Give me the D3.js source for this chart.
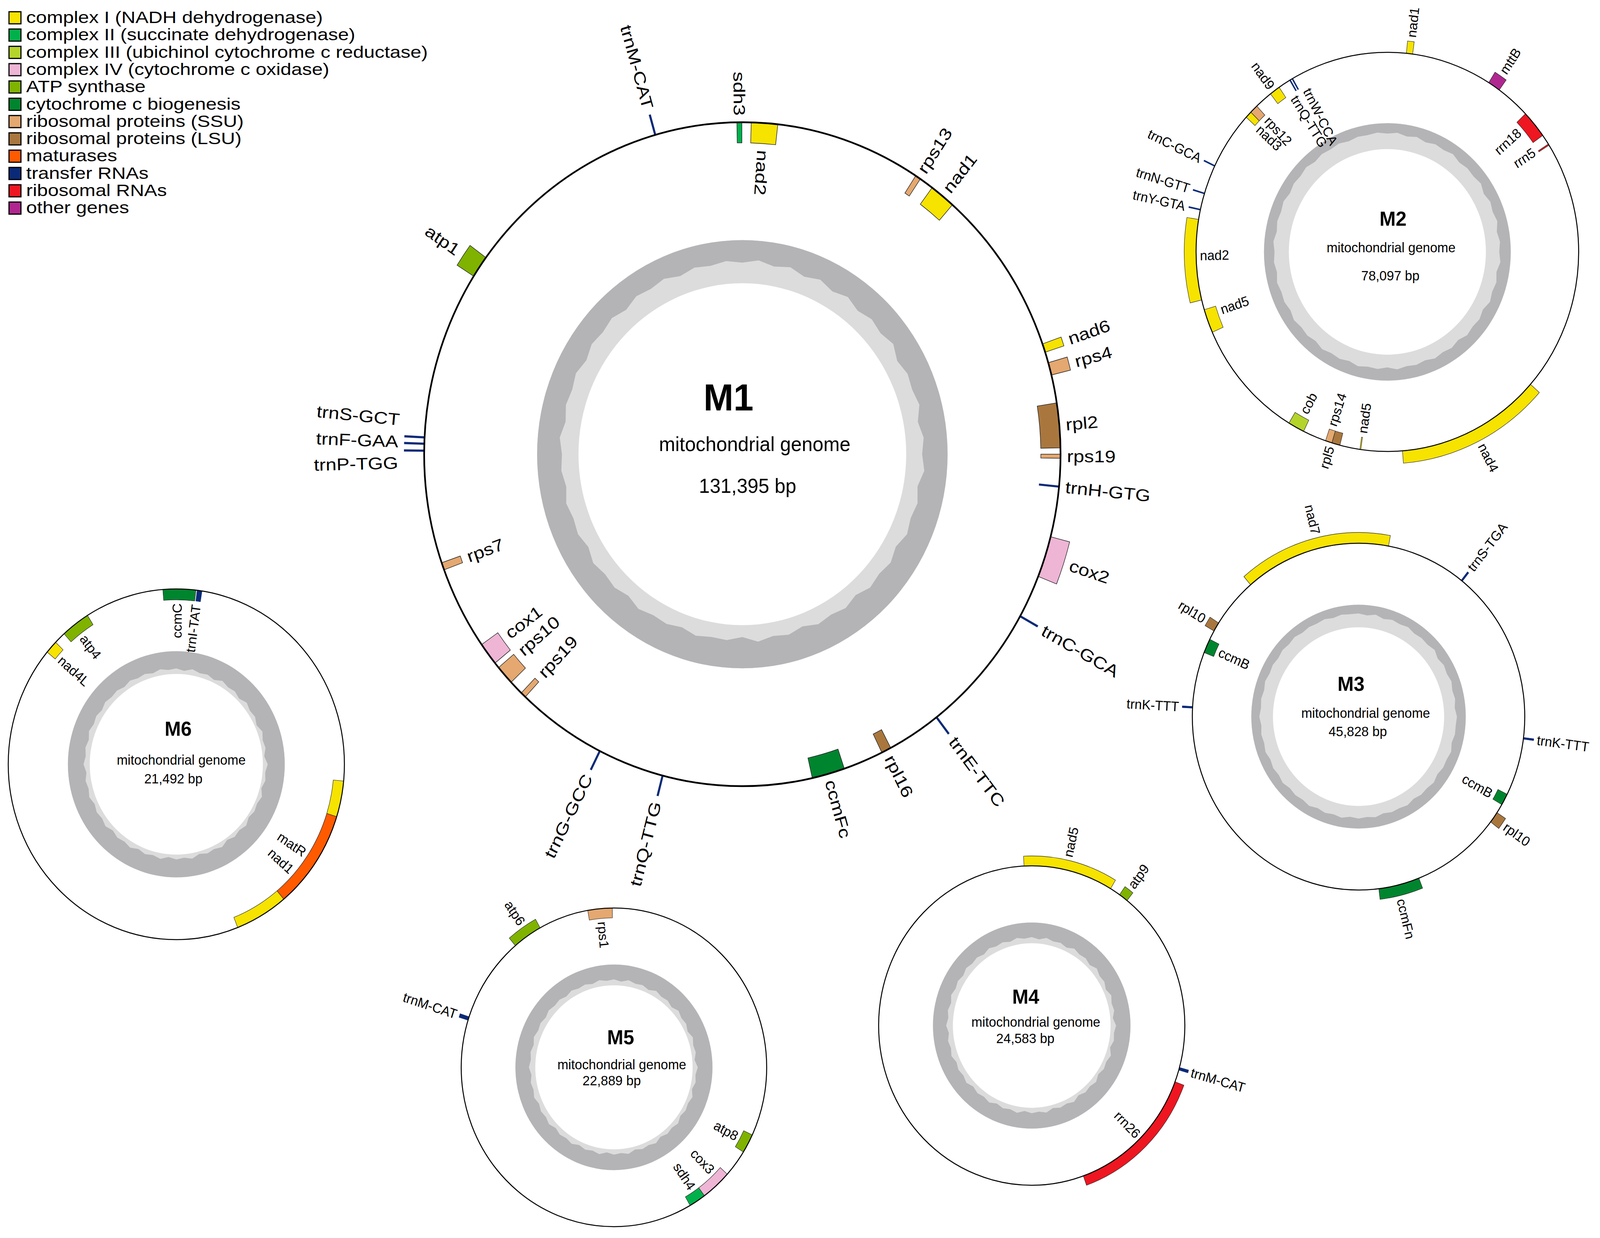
<!DOCTYPE html>
<html>
<head>
<meta charset="utf-8">
<script src="https://cdn.jsdelivr.net/npm/d3@7"></script>
<style>
  html, body { margin: 0; padding: 0; width: 100%; height: 100%; overflow: hidden; background: #fff; }
  svg { display: block; width: 100vw; height: 100vh; font-family: "Liberation Sans", Arial, sans-serif; }
</style>
</head>
<body>
<svg id="chart" viewBox="0 0 4274 3170" preserveAspectRatio="none"></svg>
<script>
/*

 gene maps of the six mitochondrial genomes

*/

// legend
var catKeys = ["c1", "c2", "c3", "c4", "atp", "ccm", "ssu", "lsu", "mat", "trna", "rrna", "other"];
var catNames = [
  "complex I (NADH dehydrogenase)",
  "complex II (succinate dehydrogenase)",
  "complex III (ubichinol cytochrome c reductase)",
  "complex IV (cytochrome c oxidase)",
  "ATP synthase",
  "cytochrome c biogenesis",
  "ribosomal proteins (SSU)",
  "ribosomal proteins (LSU)",
  "maturases",
  "transfer RNAs",
  "ribosomal RNAs",
  "other genes"
];
var catColors = ["#f6e300", "#00b14b", "#b5d42b", "#eeb5d5", "#7fb300", "#00852f",
  "#e4a870", "#a9773e", "#ff5a00", "#0a2a78", "#ee1620", "#b0278f"];

var genomeNames = ["M1", "M2", "M3", "M4", "M5", "M6"];
var genomeLengths = [131395, 78097, 45828, 24583, 22889, 21492];

// [name, category, start bp, end bp, box side, label side, label at bp, flip]
var genesM1 = [
  ["trnM-CAT", "trna", 125560, 125635, "out", "out"],
  ["sdh3", "c2", 131035, 131364, "in", "out"],
  ["nad2", "c1", 584, 2336, "in", "in", null, true],
  ["rps13", "ssu", 12045, 12410, "in", "out"],
  ["nad1", "c1", 13359, 15075, "in", "out"],
  ["nad6", "c1", 25769, 26317, "out", "out"],
  ["rps4", "ssu", 27010, 27813, "out", "out"],
  ["rpl2", "lsu", 29602, 32449, "in", "out"],
  ["rps19", "ssu", 32850, 33106, "in", "out"],
  ["trnH-GTG", "trna", 34858, 34930, "in", "out"],
  ["cox2", "c4", 38106, 40734, "out", "out"],
  ["trnC-GCA", "trna", 43472, 43545, "out", "out"],
  ["trnE-TTC", "trna", 51940, 52012, "out", "out"],
  ["rpl16", "lsu", 55553, 56210, "in", "out"],
  ["ccmFc", "ccm", 58875, 61065, "in", "out"],
  ["trnQ-TTG", "trna", 70956, 71030, "out", "out"],
  ["trnG-GCC", "trna", 75373, 75446, "out", "out"],
  ["rps19", "ssu", 81395, 81760, "in", "in"],
  ["rps10", "ssu", 82709, 83950, "in", "in", 83731],
  ["cox1", "c4", 84315, 85775, "in", "in", 85264],
  ["rps7", "ssu", 91104, 91579, "in", "in"],
  ["trnP-TGG", "trna", 98733, 98806, "out", "out", 98039],
  ["trnF-GAA", "trna", 99171, 99244, "out", "out", 99280],
  ["trnS-GCT", "trna", 99572, 99645, "out", "out", 100558],
  ["atp1", "atp", 110376, 111800, "out", "out"]
];

var genesM2 = [
  ["nad1", "c1", 1236, 1648, "out", "out"],
  ["mttB", "other", 6941, 7765, "out", "out"],
  ["rrn18", "rrna", 10021, 11778, "in", "in", 10563],
  ["rrn5", "rrna", 12428, 12515, "in", "in", 12298],
  ["nad4", "c1", 28544, 38066, "out", "out", 33164],
  ["nad5", "c1", 40777, 40842, "in", "in"],
  ["rpl5", "lsu", 42165, 42708, "in", "out", 42751],
  ["rps14", "ssu", 42708, 43142, "in", "in", 43033],
  ["cob", "c3", 44681, 45766, "in", "in"],
  ["nad5", "c1", 53422, 54918, "in", "in", 54573],
  ["nad2", "c1", 55549, 60602, "out", "in", 58346],
  ["trnY-GTA", "trna", 61187, 61260, "out", "out"],
  ["trnN-GTT", "trna", 62229, 62302, "out", "out"],
  ["trnC-GCA", "trna", 64072, 64145, "out", "out"],
  ["nad3", "c1", 67781, 68215, "in", "in", 67846],
  ["rps12", "ssu", 68215, 68757, "in", "in", 68714],
  ["nad9", "c1", 69929, 70623, "in", "out", 70212],
  ["trnQ-TTG", "trna", 71425, 71500, "in", "in", 71143],
  ["trnW-CCA", "trna", 71599, 71672, "in", "in", 72184]
];

var genesM3 = [
  ["nad7", "c1", 40672, 1324, "out", "out", 44084],
  ["trnS-TGA", "trna", 4850, 4925, "out", "out"],
  ["trnK-TTT", "trna", 12335, 12410, "out", "out"],
  ["ccmB", "ccm", 14843, 15340, "in", "in", 15174],
  ["rpl10", "lsu", 15734, 16218, "out", "out"],
  ["ccmFn", "ccm", 20203, 22023, "out", "out", 21170],
  ["trnK-TTT", "trna", 34727, 34800, "out", "out"],
  ["ccmB", "ccm", 37133, 37744, "in", "in"],
  ["rpl10", "lsu", 38139, 38534, "out", "out"]
];

var genesM4 = [
  ["nad5", "c1", 24386, 2117, "out", "out", 860],
  ["atp9", "atp", 2390, 2629, "out", "out"],
  ["trnM-CAT", "trna", 7184, 7252, "out", "out"],
  ["rrn26", "rrna", 7553, 10947, "out", "in", 9205]
];

var genesM5 = [
  ["atp8", "atp", 7318, 7763, "in", "in", 7528],
  ["cox3", "c4", 8399, 9137, "in", "in", 8615],
  ["sdh4", "c2", 9137, 9543, "in", "in", 9283],
  ["trnM-CAT", "trna", 18260, 18343, "out", "out"],
  ["atp6", "atp", 20333, 21051, "out", "out", 20740],
  ["rps1", "ssu", 22260, 22851, "in", "in", 22584]
];

var genesM6 = [
  ["ccmC", "ccm", 21217, 400, "in", "in", 18],
  ["trnI-TAT", "trna", 424, 525, "in", "in", 442],
  ["nad1", "c1", 5701, 6412, "in", "in", 7851],
  ["matR", "mat", 6412, 8376, "in", "in", 7379],
  ["nad1", "c1", 8376, 9468, "in", null],
  ["nad4L", "c1", 18495, 18752, "in", "in", 18573],
  ["atp4", "atp", 18990, 19588, "in", "in", 19265]
];

// GC content windows (%), clockwise from the top
var gcM1 = [42.8,41.9,43.1,42.2,43.6,42.5,43.9,42.7,44.1,43.0,43.8,42.6,44.3,43.2,43.7,42.9,44.5,43.3,
  44.0,43.1,44.6,43.5,44.2,43.4,44.8,43.6,44.4,43.7,45.1,43.9,44.7,44.0,45.3,44.2,44.9,43.8,
  45.4,44.3,44.6,43.9,45.0,44.1,44.5,43.6,44.8,43.7,44.2,43.3,44.6,43.5,44.0,43.2,44.3,43.4,
  43.8,42.9,44.1,43.1,43.6,42.8,43.9,42.7,43.3,42.5,43.7,42.4,43.0,42.2,43.4,42.3,42.9,42.1];
var gcM2 = [41.2,40.6,41.8,40.9,42.1,41.0,41.6,40.7,42.0,41.3,41.7,40.8,42.3,41.1,41.9,41.0,42.4,41.4,
  42.0,41.2,42.6,41.5,42.2,41.3,42.8,41.7,42.3,41.5,42.9,41.8,42.5,41.6,42.7,41.9,42.4,41.4,
  42.6,41.6,42.1,41.2,42.3,41.4,41.9,41.0,42.2,41.3,41.8,40.9,42.0,41.1,41.6,40.8,41.9,41.0,
  41.5,40.7,41.8,40.9,41.4,40.6,41.7,40.8,41.3,40.5,41.6,40.7,41.2,40.6,41.5,40.8,41.1,40.5];
var gcM3 = [41.0,41.9,40.8,42.2,41.1,41.7,40.9,42.0,41.4,41.8,40.7,42.3,41.2,41.9,41.0,42.1,41.5,42.4,
  41.3,41.8,41.6,42.5,41.2,42.0,41.7,42.6,41.4,42.2,41.8,42.7,41.5,42.3,41.9,42.8,41.6,42.4,
  41.7,42.5,41.3,42.2,41.5,42.3,41.1,42.0,41.4,42.1,41.0,41.9,41.2,42.0,40.9,41.7,41.1,41.8,
  40.8,41.6,41.0,41.7,40.7,41.5,40.9,41.6,40.8,41.4,40.6,41.5,40.9,41.3,40.7,41.6,40.8,41.2];
var gcM4 = [45.1,46.3,44.8,46.0,45.4,46.7,44.9,46.2,45.6,46.9,45.0,46.4,45.7,47.1,45.2,46.5,45.8,47.3,
  45.4,46.6,46.0,47.5,45.5,46.8,46.1,47.4,45.6,46.7,45.9,47.2,45.3,46.6,45.8,47.0,45.2,46.4,
  45.6,46.8,45.0,46.3,45.4,46.6,44.9,46.1,45.3,46.5,44.8,46.0,45.2,46.3,44.7,45.9,45.0,46.2,
  44.6,45.8,44.9,46.0,44.5,45.7,44.8,45.9,44.6,45.6,44.9,46.1,44.7,45.8,45.0,46.2,44.8,45.9];
var gcM5 = [45.3,46.5,45.0,46.2,45.6,46.9,45.1,46.4,45.8,47.1,45.3,46.6,45.9,47.3,45.5,46.8,46.1,47.5,
  45.6,46.9,46.2,47.6,45.8,47.0,46.3,47.4,45.7,46.9,46.0,47.3,45.5,46.7,45.9,47.1,45.4,46.5,
  45.7,46.9,45.2,46.4,45.5,46.7,45.1,46.2,45.4,46.6,45.0,46.1,45.3,46.4,44.9,46.0,45.2,46.3,
  44.8,45.9,45.1,46.1,44.7,45.8,45.0,46.0,44.8,45.7,45.1,46.2,44.9,45.9,45.2,46.3,45.0,46.0];
var gcM6 = [45.8,47.0,45.5,46.7,46.1,47.4,45.6,46.9,46.3,47.6,45.8,47.1,46.4,47.8,46.0,47.3,46.6,48.0,
  46.1,47.4,46.7,48.1,46.3,47.5,46.8,47.9,46.2,47.4,46.5,47.8,46.0,47.2,46.4,47.6,45.9,47.0,
  46.2,47.4,45.7,46.9,46.0,47.2,45.6,46.7,45.9,47.1,45.5,46.6,45.8,46.9,45.4,46.5,45.7,46.8,
  45.3,46.4,45.6,46.6,45.2,46.3,45.5,46.5,45.3,46.2,45.6,46.7,45.4,46.4,45.7,46.8,45.5,46.5];

var allGenes = [genesM1, genesM2, genesM3, genesM4, genesM5, genesM6];
var allGc = [gcM1, gcM2, gcM3, gcM4, gcM5, gcM6];

// where each map sits on the page
var layout = {
  M1: {cx: 1983, cy: 1163, r: 850, font: 43, sx: 1.21, stroke: 4.5, tw: 2.5, bw: 1.4,
       title: 96, sub: 52, txt: [[-37, -112], [33, -8], [14, 99]]},
  M2: {cx: 3706, cy: 645, r: 511, font: 35, sx: 1, stroke: 2.6, tw: 1, bw: 1.1,
       title: 52, sub: 35, txt: [[15, -67], [10, 1], [8, 73]]},
  M3: {cx: 3629, cy: 1835, r: 444, font: 35, sx: 1, stroke: 2.6, tw: 1, bw: 1.1,
       title: 52, sub: 35, txt: [[-20, -66], [19, 3], [-2, 50]]},
  M4: {cx: 2756, cy: 2626, r: 409, font: 35, sx: 1, stroke: 2.6, tw: 1, bw: 1.1,
       title: 52, sub: 35, txt: [[-16, -56], [11, 3], [-17, 45]]},
  M5: {cx: 1640, cy: 2733, r: 408, font: 35, sx: 1, stroke: 2.6, tw: 1, bw: 1.1,
       title: 52, sub: 35, txt: [[18, -59], [21, 5], [-6, 46]]},
  M6: {cx: 471, cy: 1957, r: 449, font: 35, sx: 1, stroke: 2.6, tw: 1, bw: 1.1,
       title: 52, sub: 35, txt: [[5, -73], [13, 1], [-8, 49]]}
};

var svg = d3.select("#chart");
svg.append("rect").attr("width", 4274).attr("height", 3170).attr("fill", "#fff");

var color = d3.scaleOrdinal().domain(catKeys).range(catColors);
var fmt = d3.format(",");

function drawGenome(name, len, genes, gc) {
  var L = layout[name];
  var R = L.r, T = R * 0.062, gap = R * 0.02;
  var rOut = R * 0.645, rIn = R * 0.515;
  var g = svg.append("g").attr("transform", "translate(" + L.cx + "," + L.cy + ")");

  var pos = d3.scaleLinear().domain([0, len]).range([0, 2 * Math.PI]);

  // GC ring
  g.append("path")
    .attr("d", d3.arc()({innerRadius: rIn, outerRadius: rOut, startAngle: 0, endAngle: 2 * Math.PI}))
    .attr("fill", "#dcdcdc");

  var step = d3.scaleLinear().domain([0, gc.length]).range([0, 2 * Math.PI]);
  var depth = d3.scaleLinear().domain([36, 49]).range([rOut, rIn]).clamp(true);
  var jag = d3.lineRadial()
    .angle(function(d, i) { return step(i); })
    .radius(function(d) { return depth(d); })
    .curve(d3.curveLinearClosed);
  var disc = d3.arc()({innerRadius: 0, outerRadius: rOut, startAngle: 0, endAngle: 2 * Math.PI});
  g.append("path")
    .attr("d", disc + jag(gc))
    .attr("fill-rule", "evenodd")
    .attr("fill", "#b4b3b6");

  // gene boxes
  var arc = d3.arc();
  genes.forEach(function(f) {
    var s = f[2], e = f[3] < f[2] ? f[3] + len : f[3];
    var r0 = f[4] === "out" ? R : R - T;
    var r1 = f[4] === "out" ? R + T : R;
    var tr = f[1] === "trna";
    g.append("path")
      .attr("d", arc({innerRadius: r0, outerRadius: r1, startAngle: pos(s), endAngle: pos(e)}))
      .attr("fill", color(f[1]))
      .attr("stroke", tr ? color(f[1]) : "#222")
      .attr("stroke-width", tr ? L.tw : L.bw);
  });

  // backbone
  g.append("circle")
    .attr("r", R)
    .attr("fill", "none")
    .attr("stroke", "#000")
    .attr("stroke-width", L.stroke);

  // labels
  genes.forEach(function(f) {
    if (!f[5]) return;
    var s = f[2], e = f[3] < f[2] ? f[3] + len : f[3];
    var at = f[6] != null ? f[6] : (s + e) / 2;
    var a = pos(at % len);
    var deg = (a * 180 / Math.PI) % 360;
    var outward = deg < 180;
    if (f[7]) outward = !outward;
    var labOut = f[5] === "out";
    var r = labOut ? R + (f[4] === "out" ? T : 0) + gap : R - (f[4] === "in" ? T : 0) - gap;
    var x = r * Math.sin(a), y = -r * Math.cos(a);
    var rot = outward ? deg - 90 : deg + 90;
    g.append("text")
      .attr("transform", "translate(" + x + "," + y + ") rotate(" + rot + ") scale(" + L.sx + ",1)")
      .attr("text-anchor", labOut === outward ? "start" : "end")
      .attr("dominant-baseline", "central")
      .attr("font-size", L.font)
      .attr("fill", "#000")
      .text(f[0]);
  });

  // centre text
  g.append("text")
    .attr("x", L.txt[0][0]).attr("y", L.txt[0][1])
    .attr("text-anchor", "middle")
    .attr("font-weight", "bold")
    .attr("font-size", L.title)
    .text(name);
  g.append("text")
    .attr("x", L.txt[1][0]).attr("y", L.txt[1][1])
    .attr("text-anchor", "middle")
    .attr("font-size", L.sub)
    .text("mitochondrial genome");
  g.append("text")
    .attr("x", L.txt[2][0]).attr("y", L.txt[2][1])
    .attr("text-anchor", "middle")
    .attr("font-size", L.sub)
    .text(fmt(len) + " bp");
}

genomeNames.forEach(function(n, i) {
  drawGenome(n, genomeLengths[i], allGenes[i], allGc[i]);
});

////////// legend
var leg = svg.append("g").attr("class", "legend");
var rowY = d3.scaleLinear().domain([0, 1]).range([30, 74.3]);

catKeys.forEach(function(k, i) {
  leg.append("rect")
    .attr("x", 24)
    .attr("y", rowY(i))
    .attr("width", 32)
    .attr("height", 31)
    .attr("fill", color(k))
    .attr("stroke", "#000")
    .attr("stroke-width", 3);
  leg.append("text")
    .attr("transform", "translate(70," + (rowY(i) + 29) + ") scale(1.21,1)")
    .attr("font-size", 43)
    .text(catNames[i]);
});
</script>
</body>
</html>
